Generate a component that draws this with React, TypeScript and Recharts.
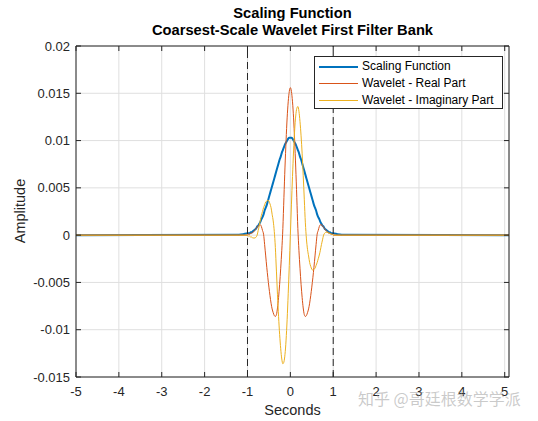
import { LineChart, Line, XAxis, YAxis, CartesianGrid, ReferenceLine } from "recharts";

// sample times (s)
const seconds = [
  -5, -1.2, -1.1,
  -1, -0.975, -0.95, -0.925, -0.9, -0.875, -0.85, -0.825, -0.8, -0.775,
  -0.75, -0.725, -0.7, -0.675, -0.65, -0.625, -0.6, -0.575, -0.55, -0.525,
  -0.5, -0.475, -0.45, -0.425, -0.4, -0.375, -0.35, -0.325, -0.3, -0.275,
  -0.25, -0.225, -0.2, -0.175, -0.15, -0.125, -0.1, -0.075, -0.05, -0.025,
  0,
  0.025, 0.05, 0.075, 0.1, 0.125, 0.15, 0.175, 0.2, 0.225, 0.25,
  0.275, 0.3, 0.325, 0.35, 0.375, 0.4, 0.425, 0.45, 0.475, 0.5,
  0.525, 0.55, 0.575, 0.6, 0.625, 0.65, 0.675, 0.7, 0.725, 0.75,
  0.775, 0.8, 0.825, 0.85, 0.875, 0.9, 0.925, 0.95, 0.975, 1,
  1.1, 1.2, 5.1,
];

const scalingFn = [
  0, 0.00005, 0.0001,
  0.0002, 0.0002, 0.0002, 0.0003, 0.0003, 0.0004, 0.0005, 0.0006, 0.0007, 0.0009,
  0.001, 0.0012, 0.0014, 0.0017, 0.0019, 0.0022, 0.0026, 0.0029, 0.0032, 0.0036,
  0.004, 0.0044, 0.0048, 0.0052, 0.0056, 0.006, 0.0064, 0.0068, 0.0072, 0.0076,
  0.008, 0.0083, 0.0087, 0.009, 0.0093, 0.0096, 0.0098, 0.01, 0.0102, 0.0103,
  0.0103,
  0.0103, 0.0102, 0.01, 0.0098, 0.0096, 0.0093, 0.009, 0.0087, 0.0083, 0.008,
  0.0076, 0.0072, 0.0068, 0.0064, 0.006, 0.0056, 0.0052, 0.0048, 0.0044, 0.004,
  0.0036, 0.0032, 0.0029, 0.0026, 0.0022, 0.0019, 0.0017, 0.0014, 0.0012, 0.001,
  0.0009, 0.0007, 0.0006, 0.0005, 0.0004, 0.0003, 0.0003, 0.0002, 0.0002, 0.0002,
  0.0001, 0.00005, 0,
];

const waveletReal = [
  0, 0, 0,
  0, 0.0001, 0.0001, 0.0002, 0.0002, 0.0003, 0.0004, 0.0005, 0.0007, 0.0008,
  0.001, 0.0011, 0.0011, 0.0009, 0.0005, 0.0001, -0.001, -0.0022, -0.0034, -0.0045,
  -0.0055, -0.0064, -0.0072, -0.0078, -0.0082, -0.0085, -0.0086, -0.0084, -0.0077, -0.0066,
  -0.0052, -0.0035, -0.0016, 0.0007, 0.004, 0.0072, 0.01, 0.0124, 0.0141, 0.0152,
  0.0156,
  0.0152, 0.0141, 0.0124, 0.01, 0.0072, 0.004, 0.0007, -0.0016, -0.0035, -0.0052,
  -0.0066, -0.0077, -0.0084, -0.0086, -0.0085, -0.0082, -0.0078, -0.0072, -0.0064, -0.0055,
  -0.0045, -0.0034, -0.0022, -0.001, 0.0001, 0.0005, 0.0009, 0.0011, 0.0011, 0.001,
  0.0008, 0.0007, 0.0005, 0.0004, 0.0003, 0.0002, 0.0002, 0.0001, 0.0001, 0,
  0, 0, 0,
];

const waveletImag = [
  0, 0, 0,
  0, -0.0001, -0.0001, -0.0002, -0.0002, -0.0003, -0.0003, -0.0003, -0.0002, 0,
  0.0005, 0.001, 0.0016, 0.0021, 0.0025, 0.0029, 0.0032, 0.0035, 0.0036, 0.0037,
  0.0036, 0.0033, 0.0029, 0.0022, 0.0015, 0.0004, -0.0013, -0.0038, -0.0063, -0.0086,
  -0.0105, -0.012, -0.0131, -0.0136, -0.0134, -0.0126, -0.0111, -0.0089, -0.0062, -0.0032,
  0,
  0.0032, 0.0062, 0.0089, 0.0111, 0.0126, 0.0134, 0.0136, 0.0131, 0.012, 0.0105,
  0.0086, 0.0063, 0.0038, 0.0013, -0.0004, -0.0015, -0.0022, -0.0029, -0.0033, -0.0036,
  -0.0037, -0.0036, -0.0035, -0.0032, -0.0029, -0.0025, -0.0021, -0.0016, -0.001, -0.0005,
  0, 0.0002, 0.0003, 0.0003, 0.0003, 0.0002, 0.0002, 0.0001, 0.0001, 0,
  0, 0, 0,
];

const xTicks = [-5, -4, -3, -2, -1, 0, 1, 2, 3, 4, 5];
const yTicks = [-0.015, -0.01, -0.005, 0, 0.005, 0.01, 0.015, 0.02];
const yTickLabels = ["-0.015", "-0.01", "-0.005", "0", "0.005", "0.01", "0.015", "0.02"];
const markerTimes = [-1, 1];

const data = seconds.map((t, i) => ({
  t,
  scaling: scalingFn[i],
  real: waveletReal[i],
  imag: waveletImag[i],
}));

const FONT = "'Liberation Sans', Arial, sans-serif";
const AX = "#262626";
const BLUE = "#0072BD";
const RED = "#D95319";
const YELLOW = "#EDB120";

const legendItems = [
  { name: "Scaling Function", color: BLUE, width: 2 },
  { name: "Wavelet - Real Part", color: RED, width: 1 },
  { name: "Wavelet - Imaginary Part", color: YELLOW, width: 1 },
];

const fmtY = (v: number) => {
  const i = yTicks.indexOf(v);
  return i >= 0 ? yTickLabels[i] : String(v);
};

export default function App() {
  const tick = { fontSize: 13, fill: AX, fontFamily: FONT };
  return (
    <div
      style={{
        position: "absolute",
        left: 0,
        top: 0,
        width: 538,
        height: 421,
        background: "#fff",
        fontFamily: FONT,
        color: AX,
      }}
    >
      <LineChart width={538} height={421} data={data} margin={{ top: 45, right: 28, bottom: 14, left: 0 }}>
        <CartesianGrid stroke="#dfdfdf" />
        <XAxis
          dataKey="t"
          type="number"
          domain={[-5, 5.1]}
          ticks={xTicks}
          allowDataOverflow
          interval={0}
          height={30}
          tickSize={-5}
          tickMargin={15}
          stroke={AX}
          tick={tick}
        />
        <XAxis
          xAxisId="top"
          orientation="top"
          dataKey="t"
          type="number"
          domain={[-5, 5.1]}
          ticks={xTicks}
          allowDataOverflow
          interval={0}
          height={1}
          tickSize={-5}
          tickFormatter={() => ""}
          stroke={AX}
        />
        <YAxis
          type="number"
          domain={[-0.015, 0.02]}
          ticks={yTicks}
          allowDataOverflow
          interval={0}
          width={76}
          tickSize={-5}
          tickMargin={11}
          tickFormatter={fmtY}
          stroke={AX}
          tick={tick}
        />
        <YAxis
          yAxisId="right"
          orientation="right"
          type="number"
          domain={[-0.015, 0.02]}
          ticks={yTicks}
          allowDataOverflow
          interval={0}
          width={1}
          tickSize={-5}
          tickFormatter={() => ""}
          stroke={AX}
        />
        <Line type="monotone" dataKey="scaling" stroke={BLUE} strokeWidth={2} dot={false} isAnimationActive={false} />
        <Line type="monotone" dataKey="real" stroke={RED} strokeWidth={1} dot={false} isAnimationActive={false} />
        <Line type="monotone" dataKey="imag" stroke={YELLOW} strokeWidth={1} dot={false} isAnimationActive={false} />
        {markerTimes.map((m) => (
          <ReferenceLine key={m} x={m} stroke={AX} strokeWidth={1} strokeDasharray="7 4" />
        ))}
      </LineChart>

      {/* title */}
      <div
        style={{
          position: "absolute",
          left: 76,
          width: 433,
          top: 5,
          textAlign: "center",
          fontWeight: "bold",
          fontSize: 14.7,
          lineHeight: "17px",
          color: "#000",
        }}
      >
        <div>Scaling Function</div>
        <div>Coarsest-Scale Wavelet First Filter Bank</div>
      </div>

      {/* axis labels */}
      <div
        style={{
          position: "absolute",
          left: 76,
          width: 433,
          top: 401,
          textAlign: "center",
          fontSize: 14.5,
          lineHeight: "18px",
        }}
      >
        Seconds
      </div>
      <div
        style={{
          position: "absolute",
          left: 20 - 60,
          top: 211 - 9,
          width: 120,
          textAlign: "center",
          fontSize: 14.5,
          lineHeight: "18px",
          transform: "rotate(-90deg)",
        }}
      >
        Amplitude
      </div>

      {/* legend */}
      <div
        style={{
          position: "absolute",
          left: 314,
          top: 56,
          width: 187,
          height: 50,
          border: `1px solid ${AX}`,
          background: "#fff",
          paddingTop: 1,
          boxSizing: "content-box",
        }}
      >
        {legendItems.map((it) => (
          <div key={it.name} style={{ display: "flex", alignItems: "center", height: 17 }}>
            <div style={{ marginLeft: 4, width: 39, height: it.width, background: it.color }} />
            <div style={{ marginLeft: 4, fontSize: 12, lineHeight: "17px", color: "#000" }}>{it.name}</div>
          </div>
        ))}
      </div>

      {/* watermark */}
      <div
        style={{
          position: "absolute",
          left: 358,
          top: 388,
          fontSize: 16,
          lineHeight: "20px",
          fontFamily: "'Noto Sans CJK SC', sans-serif",
          color: "rgba(150,150,150,0.5)",
          whiteSpace: "nowrap",
        }}
      >
        知乎 @哥廷根数学学派
      </div>
    </div>
  );
}
